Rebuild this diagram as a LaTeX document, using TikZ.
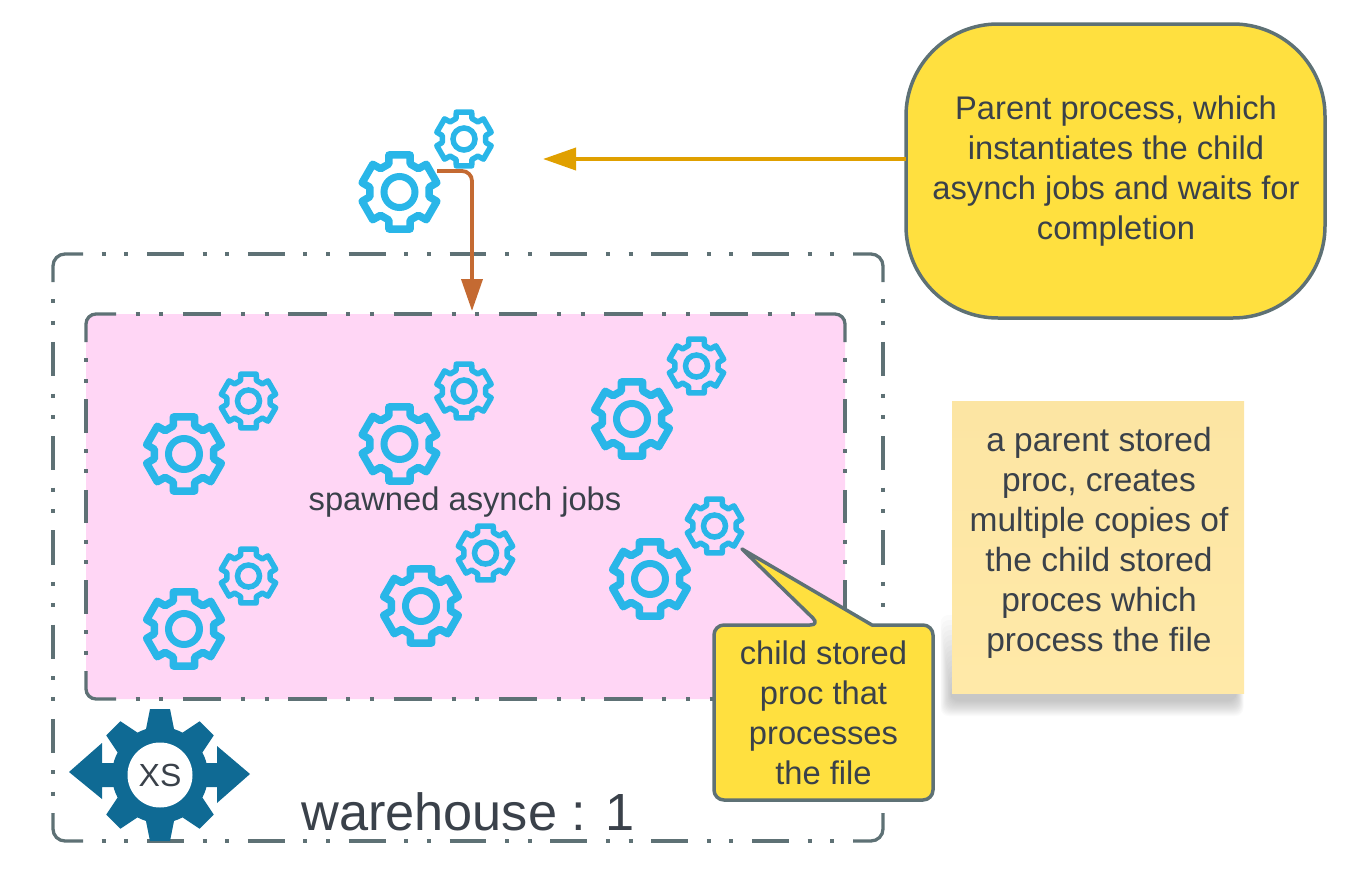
\documentclass[tikz,border=0pt]{standalone}
\usepackage{fontspec}
\setmainfont{Liberation Sans}
\usepackage{xcolor}
\usetikzlibrary{arrows.meta}
\definecolor{linegrey}{HTML}{5E7175}
\definecolor{textgrey}{HTML}{3A414A}
\definecolor{gearblue}{HTML}{29B6E8}
\definecolor{xsblue}{HTML}{0F6A94}
\definecolor{notepink}{HTML}{FFD6F5}
\definecolor{noteyellow}{HTML}{FFE03F}
\definecolor{stickytop}{HTML}{FCE5A3}
\definecolor{stickybot}{HTML}{FFE9A8}
\definecolor{arrowgold}{HTML}{E0A000}
\definecolor{arrowrust}{HTML}{C46A32}

\tikzset{
	txt/.style={text=textgrey,align=center,font=\fontsize{#1}{40}\selectfont},
	txt/.default=32.7,
	framebox/.style={inner sep=0pt,outer sep=0pt},
	solidline/.style={draw=linegrey,line width=3.3pt},
	elbow/.style={line width=3.8pt,-{Triangle[length=32pt,width=21pt]}},
	gearbig/.pic={
		\draw[gearblue,line width=7.5pt,line join=round] (9:30)
			\foreach \a in {0,60,...,300}{ -- (\a+9:30) -- (\a+30-16:38.5) -- (\a+30+16:38.5) -- (\a+51:30) } -- cycle;
		\draw[gearblue,line width=7pt] (0,0) circle (15.5);
	},
	gearsmall/.pic={
		\draw[gearblue,line width=5.5pt,line join=round] (9:22)
			\foreach \a in {0,60,...,300}{ -- (\a+9:22) -- (\a+30-16:28) -- (\a+30+16:28) -- (\a+51:22) } -- cycle;
		\draw[gearblue,line width=5.5pt] (0,0) circle (11);
	}
}

\newcommand{\dashframe}[7]{%
	\pgfmathsetmacro{\hper}{(#3-#1-60)/(#6-.365)}
	\pgfmathsetmacro{\vper}{(#4-#2-56)/(#7-.365)}
	\pgfmathsetmacro{\hgap}{(.635*\hper-8)/3}
	\pgfmathsetmacro{\vgap}{(.635*\vper-8)/3}
	\pgfmathsetmacro{\hdash}{.365*\hper}
	\pgfmathsetmacro{\vdash}{.365*\vper}
	\foreach \y in {#2,#4}{
		\draw[solidline,dash pattern=on \hdash pt off \hgap pt on 4pt off \hgap pt on 4pt off \hgap pt,dash phase=\hdash pt]
			(#1+30,\y) -- (#3-30,\y);
	}
	\foreach \x in {#1,#3}{
		\draw[solidline,dash pattern=on \vdash pt off \vgap pt on 4pt off \vgap pt on 4pt off \vgap pt,dash phase=\vdash pt]
			(\x,#2+28) -- (\x,#4-28);
	}
	\draw[solidline,rounded corners=#5] (#1+30,#2) -| (#1,#2+28);
	\draw[solidline,rounded corners=#5] (#3-30,#2) -| (#3,#2+28);
	\draw[solidline,rounded corners=#5] (#1+30,#4) -| (#1,#4-28);
	\draw[solidline,rounded corners=#5] (#3-30,#4) -| (#3,#4-28);
}

\begin{document}
\begin{tikzpicture}[x=1pt,y=-1pt]
	\useasboundingbox (0,0) rectangle (1358,870);

	\dashframe{53}{254}{883}{841}{12}{8}{6}
	\node[framebox,fill=notepink,minimum width=759pt,minimum height=385pt,rounded corners=10pt] (spawnbox) at (465.5,506.5) {};
	\dashframe{86}{314}{845}{699}{10}{7}{4}

	\foreach \x/\y/\name in {
			399.5/192/parent,
			184/454/joba,
			399.5/444/jobb,
			632/419/jobc,
			184/629/jobd,
			421/606/jobe,
			650/579/jobf
	}{
		\pic (\name big) at (\x,\y) {gearbig};
		\pic (\name small) at (\x+64.5,\y-53) {gearsmall};
	}

	\node[txt=32.7] (spawned) at (465,502) {spawned asynch jobs};
	\node[txt=52.3] (warehouse) at (468,812) {warehouse : 1};

	\coordinate (parentout) at (437,171);
	\coordinate (spawnin) at (472,311);
	\draw[elbow,arrowrust,rounded corners=10pt] (parentout) -| (spawnin);

	\node[framebox,draw=linegrey,line width=3.5pt,fill=noteyellow,minimum width=419pt,minimum height=294pt,rounded corners=92pt] (parentnote) at (1115.5,171) {};
	\node[txt] at (1116,171) {Parent process, which\\instantiates the child\\asynch jobs and waits for\\completion};
	\coordinate (parenttip) at (543,159);
	\draw[line width=3.8pt,arrowgold,-{Triangle[length=33pt,width=22pt]}] (parentnote.west |- parenttip) -- (parenttip);

	\foreach \i in {0,...,15}{
		\fill[black,opacity=.014,rounded corners=8pt] (951-.7*\i,690-5*\i) rectangle (1236+.5*\i,701+\i);
	}
	\node[framebox,top color=stickytop,bottom color=stickybot,minimum width=292pt,minimum height=292pt] (sticky) at (1098,547) {};
	\node[txt=33.5] at (1099,543) {a parent stored\\proc, creates\\multiple copies of\\the child stored\\proces which\\process the file};

	\coordinate (childtip) at (742,549);
	\draw[line width=3.5pt,draw=linegrey,fill=noteyellow,line join=round,rounded corners=10pt]
		(820,625) [sharp corners] -- (childtip) -- (872,625) [rounded corners=10pt] -- (933,625) -- (933,800) -- (714,800) -- (714,625) -- cycle;
	\node[txt] (childnote) at (823.5,713) {child stored\\proc that\\processes\\the file};

	\begin{scope}[shift={(160,775)}]
		\foreach \a in {-135,-90,-45,45,90,135}{
			\fill[xsblue,rotate=\a] (46,-14) -- (66,-10) -- (66,10) -- (46,14) -- cycle;
		}
		\fill[xsblue] (0,0) circle (48);
		\fill[xsblue] (-40,-12) -- (-58,-12) -- (-58,-32) -- (-91,-3) -- (-58,24) -- (-58,12) -- (-40,12) -- cycle;
		\fill[xsblue] (40,-12) -- (57,-12) -- (57,-29) -- (90,-1) -- (57,28) -- (57,12) -- (40,12) -- cycle;
	\end{scope}
	\node[circle,fill=white,inner sep=0pt,minimum size=65pt,txt=32] (xs) at (160,775) {XS};
\end{tikzpicture}
\end{document}
